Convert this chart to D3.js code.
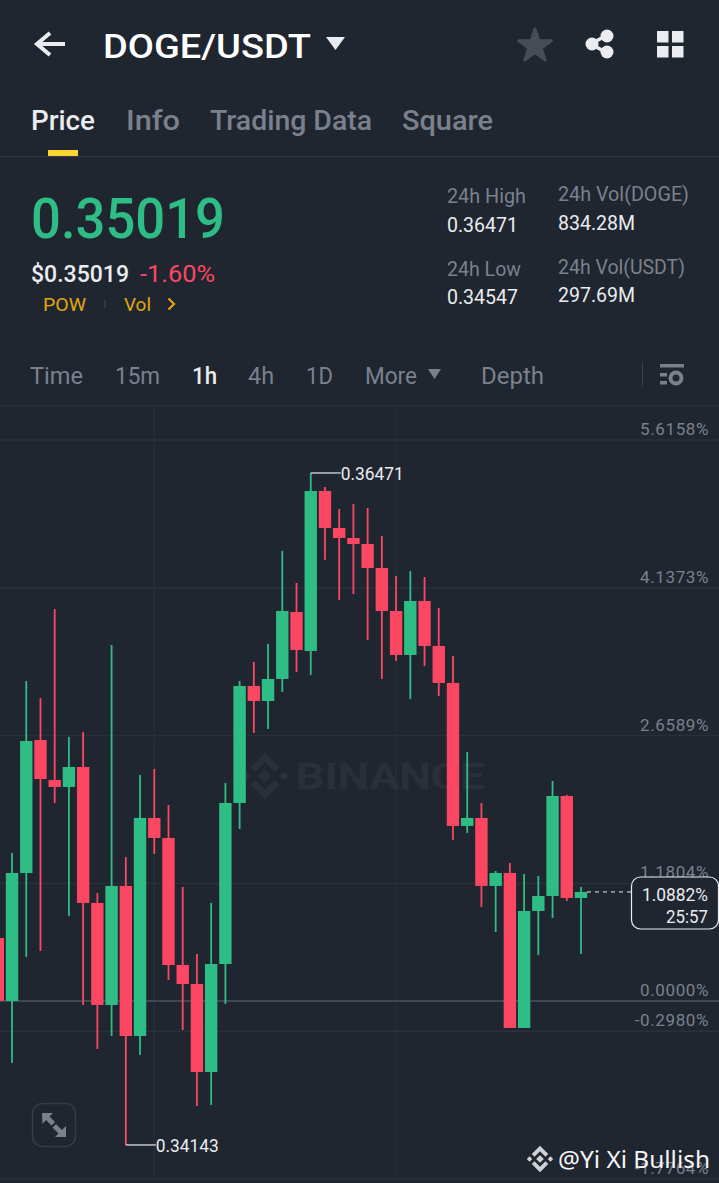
<!DOCTYPE html>
<html>
<head>
<meta charset="utf-8">
<script src="https://d3js.org/d3.v7.min.js"></script>
<style>
  html, body { margin: 0; padding: 0; background: #1f2630; overflow: hidden; }
  svg { display: block; }
  text { font-family: Roboto, "Noto Sans", sans-serif; }
</style>
</head>
<body>
<svg id="chart" width="719" height="1183"></svg>
<script>
// candle values, in percent from the 0.0000% baseline
const opens = [0.63, -0.00, 1.28, 2.61, 2.21, 2.14, 2.34, 0.98, -0.04, 1.15, -0.35, 1.83, 1.63, 0.36, 0.17, -0.71, 0.37, 1.98, 3.15, 3.00, 3.22, 3.89, 3.50, 5.10, 4.73, 4.63, 4.57, 4.33, 3.90, 3.46, 4.00, 3.55, 3.18, 1.75, 1.83, 1.15, 1.28, -0.27, 0.90, 1.05, 2.05, 1.03];
const closes = [-0.00, 1.28, 2.60, 2.22, 2.14, 2.34, 0.98, -0.04, 1.15, -0.35, 1.83, 1.63, 0.36, 0.17, -0.71, 0.37, 1.98, 3.15, 3.00, 3.22, 3.90, 3.51, 5.10, 4.73, 4.63, 4.57, 4.33, 3.90, 3.46, 4.00, 3.55, 3.18, 1.75, 1.83, 1.15, 1.28, -0.27, 0.90, 1.05, 2.05, 1.03, 1.09];
const highs = [0.63, 1.48, 3.20, 3.03, 3.92, 2.64, 2.69, 1.08, 3.56, 1.44, 2.26, 2.32, 1.96, 1.14, 0.47, 0.98, 2.18, 3.20, 3.39, 3.57, 4.50, 4.18, 5.28, 5.14, 4.92, 4.97, 4.93, 4.65, 4.25, 4.30, 4.24, 3.93, 3.45, 2.49, 1.98, 1.30, 1.38, 1.27, 1.25, 2.20, 2.06, 1.14];
const lows = [-0.00, -0.62, 0.44, 0.50, 1.98, 0.85, -0.04, -0.48, -0.35, -1.44, -0.54, 1.47, 0.21, -0.29, -1.05, -1.04, -0.03, 1.72, 2.68, 2.72, 3.09, 3.29, 3.26, 4.41, 4.01, 4.07, 3.61, 3.22, 3.40, 3.02, 3.35, 3.05, 1.61, 1.68, 0.94, 0.69, -0.27, -0.27, 0.46, 0.83, 1.00, 0.47];

// right axis
const gridTicks = [5.6158, 4.1373, 2.6589, 1.1804, -0.2980, -1.7764];
const basePct = 0;
const basePctLabel = "0.0000%";
const lastPct = "1.0882%";
const countdown = "25:57";
const verticalCandles = [11, 28];
const highMark = { index: 22, pct: 5.28, label: "0.36471" };
const lowMark = { index: 9, pct: -1.44, label: "0.34143" };
const lastClose = 1.09;

// header texts
const tabs = ["Price", "Info", "Trading Data", "Square"];
const intervals = ["Time", "15m", "1h", "4h", "1D", "More", "Depth"];

const bg = "#1f2630", grid = "#2a303a", green = "#2ebd85", red = "#fb4761";
const grey = "#7b818c", white = "#eaecef", gold = "#e0a80c";

const svg = d3.select("#chart");

function txt(x, y, s, size, color, len, weight) {
  const t = svg.append("text").attr("x", x).attr("y", y).attr("font-size", size)
    .attr("fill", color).attr("font-weight", weight || 400).text(s);
  if (len) t.attr("textLength", len).attr("lengthAdjust", "spacingAndGlyphs");
  return t;
}

// top bar
svg.append("path").attr("d", "M65 44H38M50 33L37 44L50 55").attr("fill", "none")
  .attr("stroke", "#eaecef").attr("stroke-width", 4);
txt(103, 58, "DOGE/USDT", 34, "#fff", 208, 500);
svg.append("path").attr("d", "M326 37H345L335.5 50Z").attr("fill", white);
svg.append("path").attr("d", d3.symbol(d3.symbolStar, 330)()).attr("transform", "translate(535,46)")
  .attr("fill", "#474d57").attr("stroke", "#474d57").attr("stroke-width", 3).attr("stroke-linejoin", "round");
svg.append("path").attr("d", "M591 44L607 35M591 44L607 53").attr("stroke", white).attr("stroke-width", 3.5);
[[592, 44, 6.5], [607, 36, 6.5], [607, 52, 6.5]].forEach(c =>
  svg.append("circle").attr("cx", c[0]).attr("cy", c[1]).attr("r", c[2]).attr("fill", white));
[[657, 31], [672, 31], [657, 46], [672, 46]].forEach(c =>
  svg.append("rect").attr("x", c[0]).attr("y", c[1]).attr("width", 11.5).attr("height", 11.5).attr("fill", white));

// tabs
const tabX = [31, 126, 210, 402], tabW = [64, 54, 162, 91];
tabs.forEach((t, i) => txt(tabX[i], 130, t, 28, i === 0 ? white : grey, tabW[i], 500));
svg.append("line").attr("x1", 0).attr("x2", 719).attr("y1", 156.5).attr("y2", 156.5).attr("stroke", "#343a45");
svg.append("rect").attr("x", 48).attr("y", 150).attr("width", 30).attr("height", 6).attr("fill", "#fcd535");

// price block
txt(31, 238, "0.35019", 56, green, 194, 500);
txt(31, 282, "$0.35019", 23, white, 98, 500);
txt(140, 282, "-1.60%", 23, red, 75, 400);
txt(43, 311, "POW", 19, gold, 43);
svg.append("line").attr("x1", 105).attr("x2", 105).attr("y1", 300).attr("y2", 308).attr("stroke", "#474d57");
txt(124, 311, "Vol", 19, gold, 27);
svg.append("path").attr("d", "M168.5 298.500L174 304L168.500 309.500").attr("fill", "none").attr("stroke", gold).attr("stroke-width", 2.2);

txt(447, 203, "24h High", 20, grey, 79);
txt(447, 232, "0.36471", 20, white, 71);
txt(558, 201, "24h Vol(DOGE)", 20, grey, 131);
txt(558, 230, "834.28M", 20, white, 77);
txt(447, 276, "24h Low", 20, grey, 74);
txt(447, 304, "0.34547", 20, white, 71);
txt(558, 274, "24h Vol(USDT)", 20, grey, 127);
txt(558, 302, "297.69M", 20, white, 77);

// interval bar
const intX = [30, 115, 192, 248, 306, 365, 481], intW = [53, 45, 25, 26, 27, 52, 63];
intervals.forEach((t, i) => txt(intX[i], 384, t, 24, i === 2 ? white : grey, intW[i], i === 2 ? 500 : 400));
svg.append("path").attr("d", "M428 369H441L434.500 379Z").attr("fill", grey);
svg.append("line").attr("x1", 642.5).attr("x2", 642.5).attr("y1", 362).attr("y2", 386).attr("stroke", "#3a404a");
svg.append("path").attr("d", "M660 364H684V367.500H660ZM660 373H667V376.500H660ZM660 381H667V384.500H660Z").attr("fill", grey);
svg.append("circle").attr("cx", 676).attr("cy", 378).attr("r", 5.500).attr("fill", "none").attr("stroke", grey).attr("stroke-width", 4);

// chart scales
const y = d3.scaleLinear().domain([5.6158, -1.7764]).range([439.4, 1178.6]);
const x = d3.scaleLinear().domain([0, 41]).range([-2.2, 581]);

svg.append("line").attr("x1", 0).attr("x2", 719).attr("y1", 405.5).attr("y2", 405.5).attr("stroke", grid);

// grid lines and labels come from the axis
const axis = svg.append("g").attr("class", "y-axis")
  .call(d3.axisRight(y).tickValues(gridTicks).tickSize(719).tickFormat(d => d.toFixed(4) + "%"));
axis.select(".domain").remove();
axis.selectAll("line").attr("stroke", grid).attr("stroke-width", 1.5);
axis.selectAll("text").attr("x", 709).attr("dy", -5).attr("text-anchor", "end")
  .attr("font-size", 17).attr("letter-spacing", 0.6).attr("fill", grey);

svg.append("g").selectAll("line").data(verticalCandles).enter().append("line")
  .attr("x1", d => x(d)).attr("x2", d => x(d)).attr("y1", 405).attr("y2", 1179)
  .attr("stroke", grid).attr("stroke-width", 1.2);

// watermark
function binanceLogo(cx, cy, s, color, opacity) {
  const g = svg.append("g").attr("transform", `translate(${cx},${cy}) scale(${s})`)
    .attr("fill", color).attr("opacity", opacity);
  g.append("path").attr("d", "M0 -3.500L3.500 0L0 3.500L-3.500 0Z");
  g.append("path").attr("d", "M-12 0L-9.500 -2.500L-7 0L-9.500 2.500ZM12 0L9.500 -2.500L7 0L9.500 2.500Z");
  g.append("path").attr("d", "M0 -12L7.500 -4.500L5 -2L0 -7L-5 -2L-7.500 -4.500Z");
  g.append("path").attr("d", "M0 12L7.500 4.500L5 2L0 7L-5 2L-7.500 4.500Z");
}
binanceLogo(265, 776, 1.95, "#2a303a", 1);
txt(296, 789, "BINANCE", 36, "#2a303a", 189, 700);

// base line at 0%
svg.append("line").attr("x1", 0).attr("x2", 719).attr("y1", y(basePct)).attr("y2", y(basePct))
  .attr("stroke", "#4d535e").attr("stroke-width", 1.5);
txt(709, y(basePct) - 5, basePctLabel, 17, grey).attr("text-anchor", "end").attr("letter-spacing", 0.6);

// candles
const candles = opens.map((o, i) => ({ i, o, c: closes[i], h: highs[i], l: lows[i] }));
const candleG = svg.append("g").selectAll("g").data(candles).enter().append("g")
  .attr("fill", d => d.c >= d.o ? green : red);
candleG.append("rect")
  .attr("x", d => x(d.i) - 0.9).attr("width", 1.8)
  .attr("y", d => y(d.h)).attr("height", d => y(d.l) - y(d.h));
candleG.append("rect")
  .attr("x", d => x(d.i) - 6.2).attr("width", 12.4)
  .attr("y", d => y(Math.max(d.o, d.c)))
  .attr("height", d => Math.abs(y(d.o) - y(d.c)));

// high / low markers
[highMark, lowMark].forEach(m => {
  const x0 = x(m.index), yy = y(m.pct);
  svg.append("line").attr("x1", x0).attr("x2", x0 + 30).attr("y1", yy).attr("y2", yy).attr("stroke", white).attr("stroke-width", 1.2);
  txt(x0 + 30, yy + 7, m.label, 18, white, 63);
});

// last price
svg.append("line").attr("x1", x(41) + 6).attr("x2", 632).attr("y1", y(lastClose)).attr("y2", y(lastClose))
  .attr("stroke", white).attr("stroke-dasharray", "4 4");
svg.append("rect").attr("x", 631.500).attr("y", 877).attr("width", 87).attr("height", 52).attr("rx", 9)
  .attr("fill", bg).attr("stroke", white).attr("stroke-width", 1.200);
txt(642, 901, lastPct, 18, white, 66);
txt(666, 923, countdown, 18, white, 42);

// expand button
svg.append("rect").attr("x", 32.500).attr("y", 1103.500).attr("width", 43).attr("height", 43).attr("rx", 10)
  .attr("fill", "none").attr("stroke", "#363c46").attr("stroke-width", 1.500);
svg.append("path").attr("d", "M42 1113H53L49.500 1116.500L55 1122L51.500 1125.500L46 1120L42.500 1124Z M66 1137H55L58.500 1133.500L52.500 1127.500L56 1124L62 1130L66 1126Z")
  .attr("fill", grey);

// credit
binanceLogo(540, 1159, 1.1, "#cfd1d4", 1);
txt(558, 1168, "@Yi Xi Bullish", 24, "#f5f5f5", 152).style("font-family", "'Noto Sans'");
</script>
</body>
</html>
